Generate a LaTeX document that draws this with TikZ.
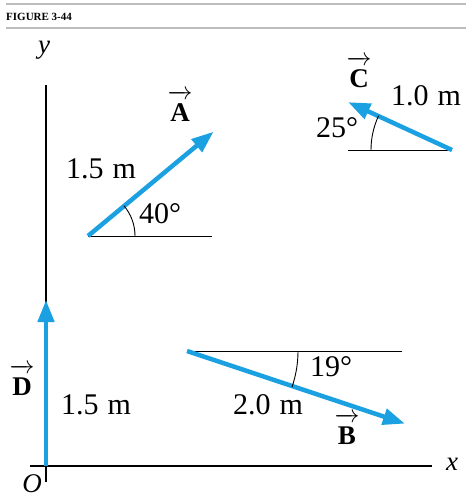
\documentclass[tikz,border=0pt]{standalone}
\usepackage{fontspec}
\setmainfont{Liberation Serif}
\usetikzlibrary{arrows.meta}
\definecolor{vecblue}{RGB}{27,160,225}
\definecolor{rulegray}{RGB}{190,190,190}
\tikzset{
  vec/.style={draw=vecblue, line width=4.5pt, -{Triangle[length=22pt,width=16pt]}, shorten >=-2pt},
  axisline/.style={draw=black, line width=1.6pt},
  refline/.style={draw=black, line width=0.9pt},
  anglearc/.style={draw=black, line width=0.9pt},
  lab/.style={font=\fontsize{30}{32}\selectfont, inner sep=1pt},
  vlab/.style={font=\fontsize{27}{29}\selectfont, inner sep=1pt},
  axlab/.style={font=\fontsize{27}{29}\selectfont\itshape, inner sep=1pt},
}
\newcommand{\vlet}[1]{$\overrightarrow{\raisebox{0pt}[1.25\height]{\textbf{#1}}}$}
\newcommand{\mm}[1]{#1\hspace{0.3em}m}
\begin{document}
\begin{tikzpicture}[x=1pt,y=-1pt]
\useasboundingbox (0,0) rectangle (474,504);
% header
\draw[rulegray, line width=1.5pt] (6,4) -- (466,4);
\draw[rulegray, line width=1.5pt] (6,28) -- (466,28);
\node[anchor=west, font=\fontsize{11}{12}\selectfont\bfseries, inner sep=0pt] (hdr) at (6,16.5) {FIGURE 3-44};
% axes
\coordinate (O) at (46,466);
\coordinate (ytop) at (46,85);
\coordinate (ybot) at (46,482);
\coordinate (xl) at (30,466);
\coordinate (xr) at (432,466);
\draw[axisline] (ytop) -- (ybot);
\draw[axisline] (xl) -- (xr);
\node[axlab] (ylab) at (44,50) {y};
\node[axlab] (xlab) at (452,464) {x};
\node[axlab] (olab) at (32,484) {O};
% D
\coordinate (Dt) at (46,302);
\draw[vec] (O) -- (Dt);
\node[vlab] (Dlab) at (22,380) {\vlet{D}};
\node[lab] (Dlen) at (96,405) {\mm{1.5}};
% A
\coordinate (At) at (88,236);
\coordinate (Ah) at (212,133);
\coordinate (Ar) at (212,236);
\draw[refline] (At) -- (Ar);
\draw[vec] (At) -- (Ah);
\draw[anglearc] (88+47,236) arc[start angle=0, end angle=-40, radius=47];
\node[lab] (Aang) at (160,214) {40°};
\node[lab] (Alen) at (101,169) {\mm{1.5}};
\node[vlab] (Alab) at (180,106) {\vlet{A}};
% C
\coordinate (Ct) at (452,150);
\coordinate (Ch) at (350,103);
\coordinate (Cl) at (348,150);
\draw[refline] (Cl) -- (Ct);
\draw[vec] (Ct) -- (Ch);
\draw[anglearc] (452-81,150) arc[start angle=180, end angle=205, radius=81];
\node[lab] (Cang) at (337,128) {25°};
\node[lab] (Clen) at (426,96) {\mm{1.0}};
\node[vlab] (Clab) at (359,72) {\vlet{C}};
% B
\coordinate (Bt) at (187,351);
\coordinate (Bh) at (403,423);
\coordinate (Br) at (402,351);
\draw[refline] (Bt) -- (Br);
\draw[vec] (Bt) -- (Bh);
\draw[anglearc] (187+111,351) arc[start angle=0, end angle=19, radius=111];
\node[lab] (Bang) at (331,367) {19°};
\node[lab] (Blen) at (268,405) {\mm{2.0}};
\node[vlab] (Blab) at (347,429) {\vlet{B}};
\end{tikzpicture}
\end{document}
